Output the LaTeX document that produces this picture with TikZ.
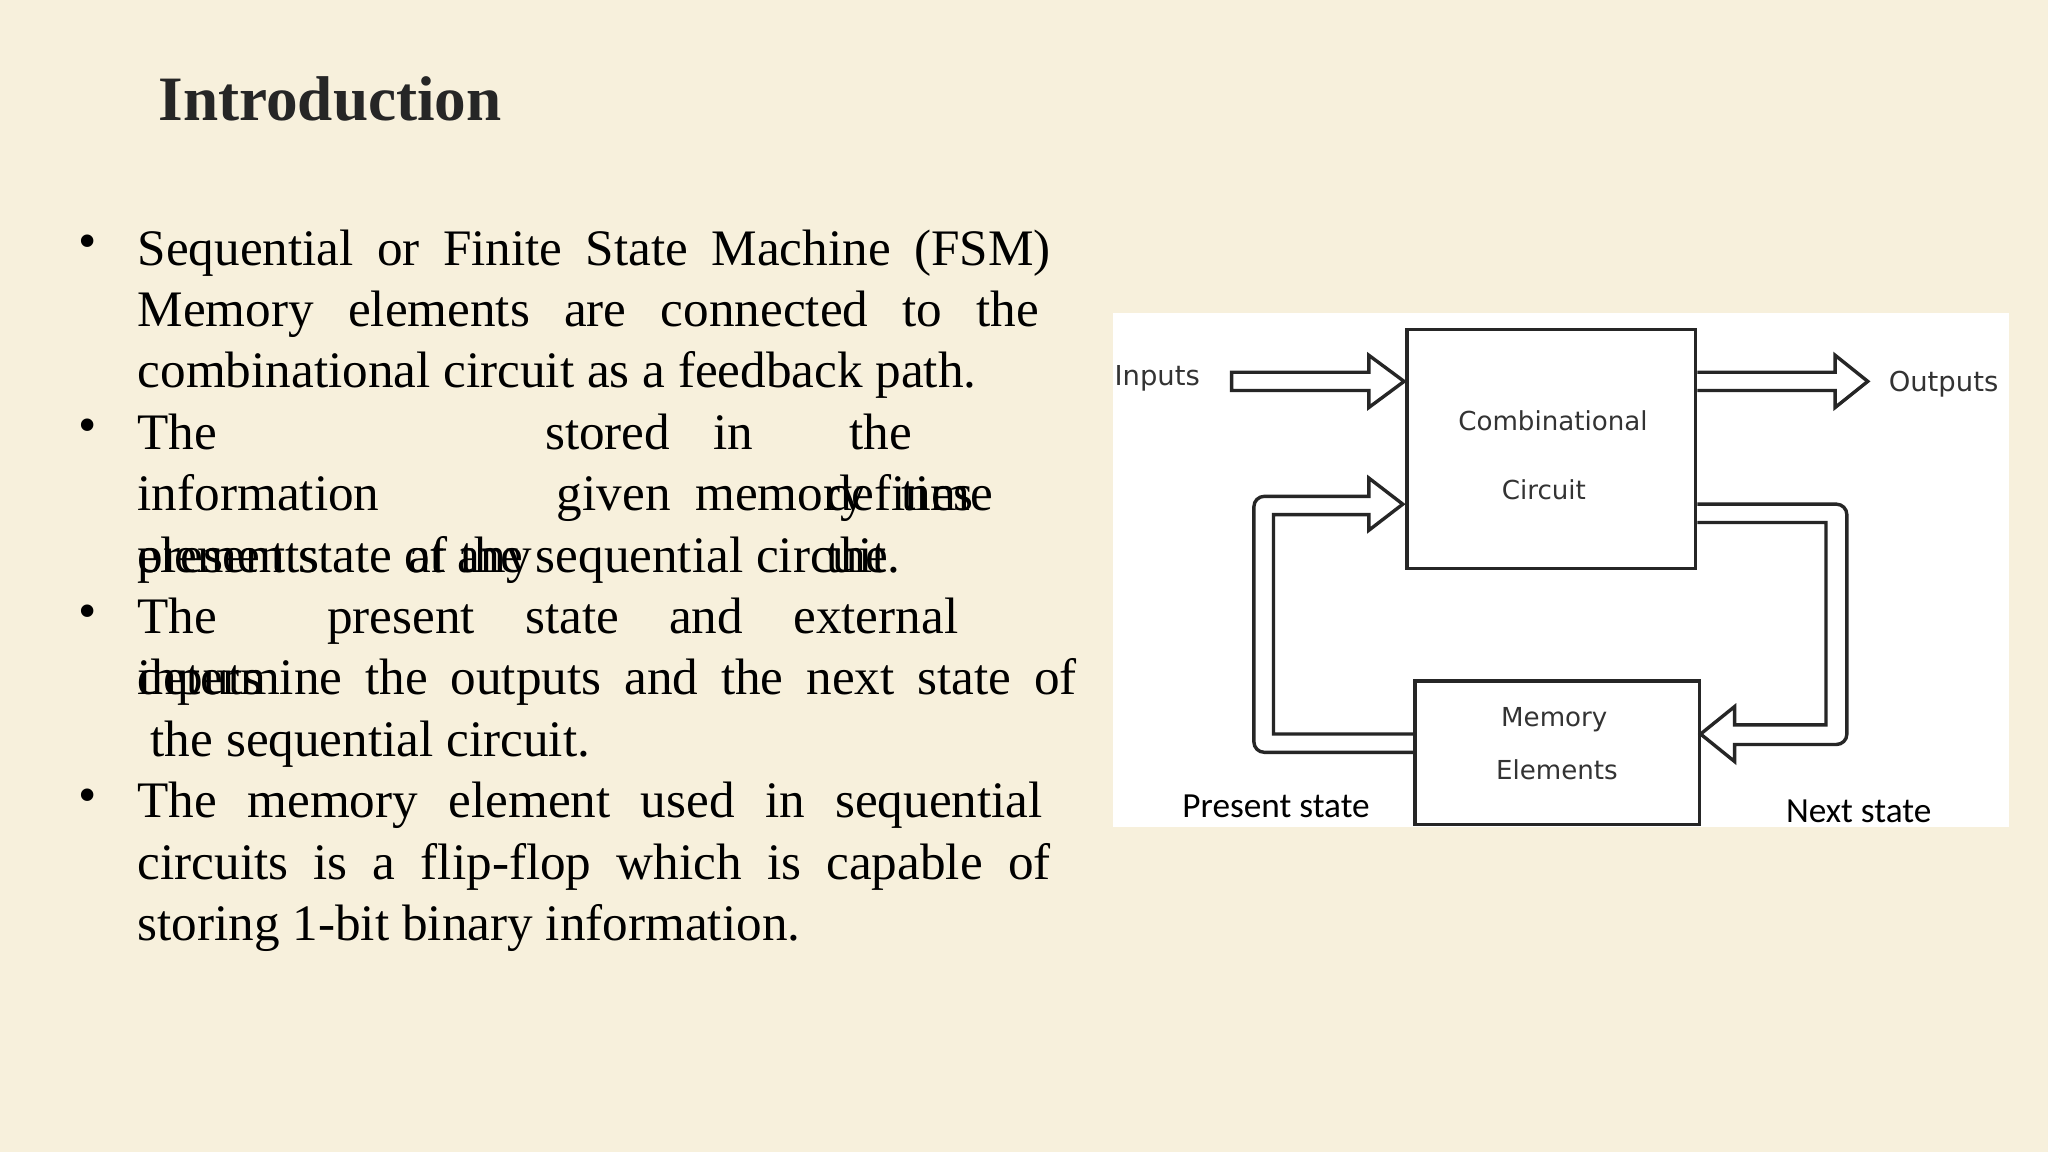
\documentclass[tikz,border=0pt]{standalone}
\usepackage{fontspec}
\setmainfont{Liberation Serif}
\newfontfamily\djfont{DejaVu Sans}
\newfontfamily\cbfont{Carlito}
\begin{document}
\begin{tikzpicture}[x=0.5pt,y=-0.5pt,
  tx/.style={anchor=base west,inner sep=0,font=\fontsize{19.6}{24}\selectfont},
  bul/.style={anchor=center,inner sep=0,font=\fontsize{20}{24}\selectfont},
  dg/.style={inner sep=0,font=\djfont\fontsize{10}{12}\selectfont,text=black!80},
  lb/.style={inner sep=0,font=\cbfont\fontsize{13.5}{16}\selectfont},
  blk/.style={draw=black!85,line width=1.3pt,fill=white},
  arr/.style={draw=black!85,line width=1.3pt,fill=white,line join=miter}]
\fill[fill={rgb,255:red,247;green,240;blue,220}] (0,0) rectangle (1568,882);
\useasboundingbox (0,0) rectangle (1568,882);
\node[anchor=base west,inner sep=0,font=\bfseries\fontsize{24.2}{28}\selectfont,text=black!85] (title) at (121,92) {Introduction};
% bullets
\foreach \y/\n in {190/b1,331/b2,473/b3,614/b4}{\node[bul] (\n) at (67,\y-1) {•};}
\def\jl#1#2#3#4{\node[tx] (#1) at (105,#2) {\hbox to #3pt{#4}};}
\jl{l1}{203}{349.5}{Sequential\hfill or\hfill Finite\hfill State\hfill Machine\hfill (FSM)}
\jl{l2}{250}{345}{Memory\hfill elements\hfill are\hfill connected\hfill to\hfill the}
\node[tx] (l3) at (105,297) {combinational circuit as a feedback path.};
\node[tx] (l4a) at (105,344) {The};
\node[tx] (l4b) at (417,344) {stored};
\node[tx] (l4c) at (546,344) {in};
\node[tx] (l4d) at (650,344) {the};
\node[tx] (l5a) at (105,391) {information};
\node[tx] (l5b) at (426,391) {given};
\node[tx] (l5c) at (532,391) {memory};
\node[tx] (l5d) at (632,391) {defines};
\node[tx] (l5e) at (690,391) {time};
\node[tx] (l6a) at (105,438) {elements};
\node[tx] (l6b) at (312,438) {at any};
\node[tx] (l6c) at (105,438) {present state of the sequential circuit.};
\node[tx] (l6d) at (632,438) {the};
\node[tx] (l7a) at (105,485) {The};
\node[tx] (l7b) at (250,485) {present};
\node[tx] (l7c) at (402,485) {state};
\node[tx] (l7d) at (512,485) {and};
\node[tx] (l7e) at (607,485) {external};
\node[tx] (l8a) at (105,532) {inputs};
\jl{l8b}{532}{359.5}{determine\hfill the\hfill outputs\hfill and\hfill the\hfill next\hfill state\hfill of}
\node[tx] (l9) at (115,579) {the sequential circuit.};
\jl{l10}{626}{346.5}{The\hfill memory\hfill element\hfill used\hfill in\hfill sequential}
\jl{l11}{673}{349.5}{circuits\hfill is\hfill a\hfill flip-flop\hfill which\hfill is\hfill capable\hfill of}
\node[tx] (l12) at (105,720) {storing 1-bit binary information.};
% diagram
\fill[white] (852,240) rectangle (1538,633);
\node[blk,minimum width=110.5pt,minimum height=91.5pt,anchor=north west] (cc) at (1076,251) {};
\node[blk,minimum width=109pt,minimum height=55pt,anchor=north west] (me) at (1082,520) {};
\node[dg] (t1) at (1189,322) {Combinational};
\node[dg] (t2) at (1182,375) {Circuit};
\node[dg] (t3) at (1190,551) {Memory};
\node[dg] (t4) at (1192,589) {Elements};
\node[dg,font=\djfont\fontsize{10.5}{12}\selectfont] (in) at (886,290) {Inputs};
\node[dg,font=\djfont\fontsize{10.5}{12}\selectfont] (out) at (1488,294) {Outputs};
\node[lb] (ps) at (977,617) {Present state};
\node[lb] (ns) at (1423,621) {Next state};
% inputs arrow
\draw[arr] (943,285) -- (1048,285) -- (1048,272) -- (1075,292) -- (1048,312) -- (1048,299) -- (943,299) -- cycle;
% outputs arrow
\draw[arr] (cc.east |- 0,285) -- (1405,285) -- (1405,272) -- (1430,292) -- (1405,312) -- (1405,299) -- (cc.east |- 0,299);
% left feedback
\draw[arr,fill=none] (me.west |- 0,576) -- (968,576) to[out=180,in=-90] (960,568) -- (960,388) to[out=90,in=180] (968,380) -- (1048,380) -- (1048,366) -- (1074,386) -- (1048,406) -- (1048,394) -- (975,394) -- (975,562) -- (me.west |- 0,562);
% right feedback
\draw[arr,fill=none] (cc.east |- 0,386) -- (1406,386) to[out=0,in=90] (1414,394) -- (1414,562) to[out=-90,in=0] (1406,570) -- (1328,570) -- (1328,583) -- (1302,562) -- (1328,541) -- (1328,555) -- (1398,555) -- (1398,400) -- (cc.east |- 0,400);
\end{tikzpicture}
\end{document}
